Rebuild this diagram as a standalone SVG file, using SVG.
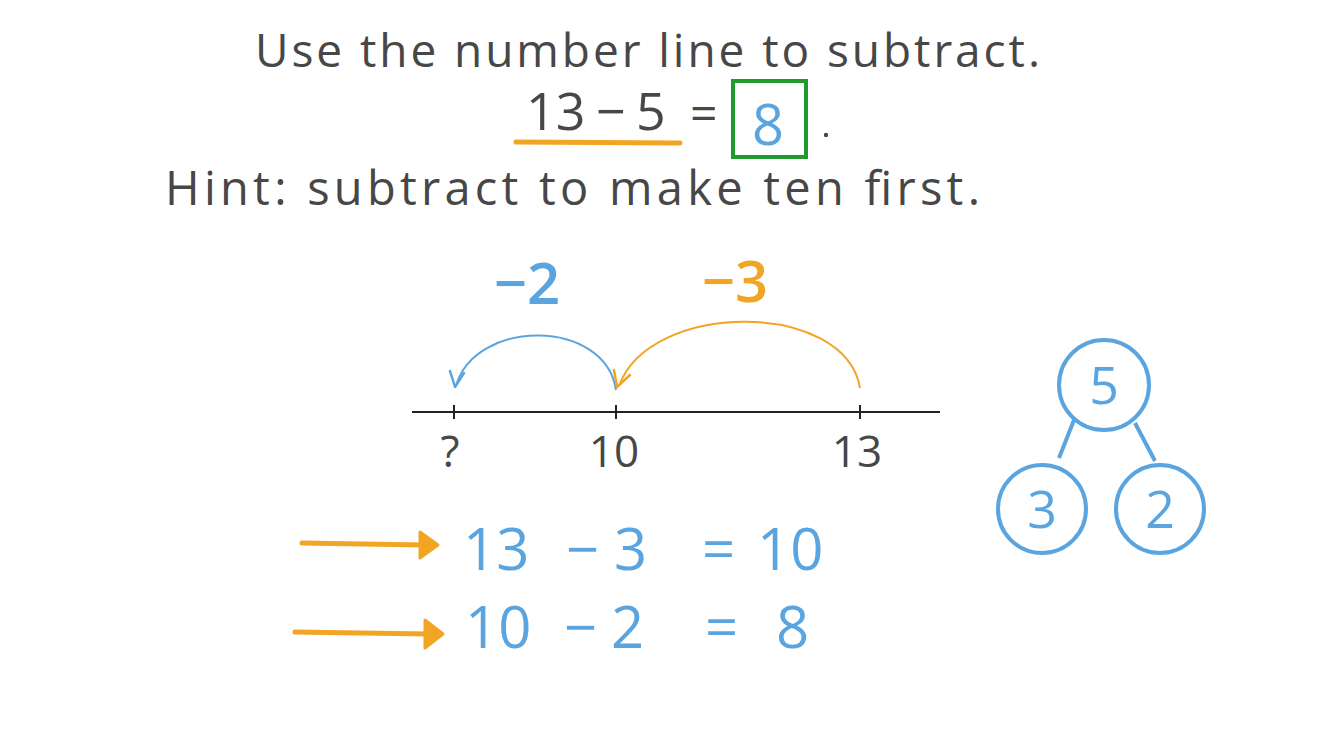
<svg xmlns="http://www.w3.org/2000/svg" width="1344" height="756" viewBox="0 0 1344 756">
<style>
.t{font-family:"Open Sans","Liberation Sans",sans-serif;}
.dark{fill:#474747;}
.blue{fill:#5aa5e0;}
.orange{fill:#f2a523;}
.bs{stroke:#5aa5e0;fill:none;stroke-width:4;}
.tick{stroke:#222;stroke-width:2;}
</style>
<rect width="1344" height="756" fill="#fff"/>
<g id="title">
<text class="t dark" x="255" y="67" font-size="46" textLength="785" lengthAdjust="spacing">Use the number line to subtract.</text>
</g>
<g id="question">
<text class="t dark" y="130" font-size="52"><tspan x="526">13</tspan><tspan x="596">−</tspan><tspan x="636">5</tspan><tspan x="690" font-size="48">=</tspan></text>
<line x1="516" y1="142" x2="680" y2="143" stroke="#f2a523" stroke-width="5" stroke-linecap="round"/>
<rect x="733" y="81" width="73" height="76" fill="none" stroke="#1f9a2e" stroke-width="4"/>
<text class="t blue" x="768" y="145" font-size="56" text-anchor="middle">8</text>
<circle cx="826" cy="135" r="2.2" fill="#474747"/>
</g>
<g id="hint">
<text class="t dark" x="165" y="205" font-size="47" textLength="815" lengthAdjust="spacing">Hint: subtract to make ten first.</text>
</g>
<g id="numberline">
<line x1="412" y1="412" x2="940" y2="412" stroke="#222" stroke-width="2"/>
<line x1="454" y1="405" x2="454" y2="419" class="tick"/>
<line x1="616" y1="405" x2="616" y2="419" class="tick"/>
<line x1="860" y1="405" x2="860" y2="419" class="tick"/>
<text class="t dark" x="450" y="467" font-size="44" text-anchor="middle">?</text>
<text class="t dark" x="614" y="467" font-size="44" text-anchor="middle">10</text>
<text class="t dark" x="857" y="467" font-size="44" text-anchor="middle">13</text>
</g>
<g id="jumps">
<path d="M616,390 C605,318 475,318 456,386" fill="none" stroke="#5aa5e0" stroke-width="2"/>
<path d="M450,371 L455,387 L464,373" fill="none" stroke="#5aa5e0" stroke-width="2.5" stroke-linecap="round" stroke-linejoin="round"/>
<path d="M860,388 C845,300 650,300 619,386" fill="none" stroke="#f2a523" stroke-width="2"/>
<path d="M614,370 L617,387 L630,375" fill="none" stroke="#f2a523" stroke-width="2.5" stroke-linecap="round" stroke-linejoin="round"/>
<text class="t blue" x="527" y="304" font-size="58" text-anchor="middle" font-weight="600">−2</text>
<text class="t orange" x="735" y="302" font-size="58" text-anchor="middle" font-weight="600">−3</text>
</g>
<g id="bond">
<line x1="1074" y1="420" x2="1059" y2="458" class="bs"/>
<line x1="1135" y1="423" x2="1155" y2="461" class="bs"/>
<circle cx="1104" cy="385" r="45" class="bs"/>
<circle cx="1042" cy="509" r="44" class="bs"/>
<circle cx="1160" cy="509" r="44" class="bs"/>
<text class="t blue" x="1104" y="404" font-size="52" text-anchor="middle">5</text>
<text class="t blue" x="1042" y="528" font-size="52" text-anchor="middle">3</text>
<text class="t blue" x="1160" y="528" font-size="52" text-anchor="middle">2</text>
</g>
<g id="connectors">
<line x1="302" y1="543" x2="424" y2="545" stroke="#f2a523" stroke-width="5" stroke-linecap="round"/>
<path d="M420,532 L438,545 L420,558 Z" fill="#f2a523" stroke="#f2a523" stroke-width="3" stroke-linejoin="round"/>
<line x1="295" y1="632" x2="428" y2="634" stroke="#f2a523" stroke-width="5" stroke-linecap="round"/>
<path d="M425,620 L443,634 L425,648 Z" fill="#f2a523" stroke="#f2a523" stroke-width="3" stroke-linejoin="round"/>
</g>
<g id="steps">
<text class="t blue" y="570" font-size="58"><tspan x="463">13</tspan><tspan x="566">−</tspan><tspan x="614">3</tspan><tspan x="702">=</tspan><tspan x="757">10</tspan></text>
<text class="t blue" y="648" font-size="58"><tspan x="465">10</tspan><tspan x="564">−</tspan><tspan x="611">2</tspan><tspan x="705">=</tspan><tspan x="776">8</tspan></text>
</g>
</svg>
